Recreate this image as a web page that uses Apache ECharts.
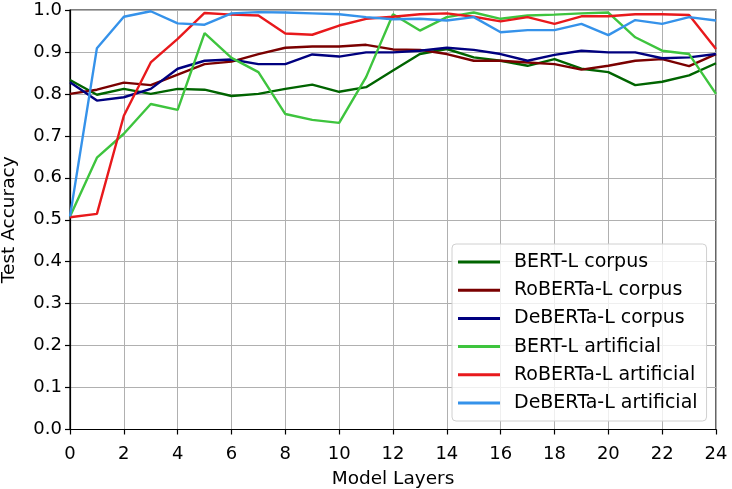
<!DOCTYPE html>
<html>
<head>
<meta charset="utf-8">
<script src="https://cdn.jsdelivr.net/npm/echarts@6/dist/echarts.min.js"></script>
<style>
html,body{margin:0;padding:0;background:#fff;}
#chart{width:732px;height:489px;}
</style>
</head>
<body>
<div id="chart"></div>
<script>
const layers = [0,1,2,3,4,5,6,7,8,9,10,11,12,13,14,15,16,17,18,19,20,21,22,23,24];
const bertCorpus = [0.833,0.798,0.812,0.800,0.812,0.810,0.795,0.800,0.812,0.822,0.805,0.816,0.856,0.895,0.907,0.887,0.879,0.867,0.883,0.860,0.852,0.821,0.829,0.844,0.873];
const robertaCorpus = [0.800,0.810,0.827,0.821,0.846,0.871,0.877,0.895,0.910,0.913,0.913,0.917,0.906,0.905,0.895,0.879,0.879,0.875,0.871,0.858,0.867,0.879,0.883,0.866,0.895];
const debertaCorpus = [0.828,0.784,0.792,0.812,0.860,0.879,0.882,0.871,0.871,0.894,0.889,0.899,0.899,0.903,0.910,0.905,0.895,0.879,0.893,0.903,0.899,0.899,0.885,0.887,0.895];
const bertArtificial = [0.508,0.648,0.705,0.776,0.762,0.945,0.886,0.852,0.752,0.738,0.731,0.840,0.990,0.951,0.983,0.994,0.979,0.987,0.989,0.992,0.994,0.935,0.903,0.895,0.800];
const robertaArtificial = [0.506,0.514,0.748,0.875,0.931,0.993,0.989,0.987,0.944,0.941,0.963,0.979,0.984,0.990,0.992,0.984,0.973,0.983,0.967,0.985,0.985,0.990,0.990,0.988,0.907];
const debertaArtificial = [0.508,0.909,0.984,0.997,0.968,0.965,0.992,0.995,0.994,0.992,0.990,0.983,0.978,0.979,0.975,0.983,0.947,0.952,0.952,0.967,0.940,0.976,0.967,0.983,0.975];
const seriesNames = ['BERT-L corpus','RoBERTa-L corpus','DeBERTa-L corpus','BERT-L artificial','RoBERTa-L artificial','DeBERTa-L artificial'];
const seriesColors = ['#006400','#7a0000','#00007f','#3ec43e','#e8191c','#3592ea'];
const seriesValues = [bertCorpus,robertaCorpus,debertaCorpus,bertArtificial,robertaArtificial,debertaArtificial];

const font = 'DejaVu Sans';
const chart = echarts.init(document.getElementById('chart'), null, {renderer:'canvas'});
chart.setOption({
  animation:false,
  backgroundColor:'#fff',
  grid:{left:70,right:16,top:10,bottom:59.5,containLabel:false,outerBoundsMode:'none',show:true,borderColor:'#000',borderWidth:1.2,backgroundColor:'transparent'},
  legend:{
    orient:'vertical',
    left:452, top:244,
    padding:[8,9,8,6],
    itemGap:8.2,
    itemWidth:42, itemHeight:3,
    icon:'rect',
    backgroundColor:'rgba(255,255,255,0.8)',
    borderColor:'#d0d0d0', borderWidth:1, borderRadius:4,
    textStyle:{fontFamily:font,fontSize:19,color:'#000',lineHeight:20,padding:[0,0,0,9]},
    data:seriesNames
  },
  xAxis:{
    type:'value', min:0, max:24, interval:2,
    name:'Model Layers', nameLocation:'middle', nameGap:40,
    nameTextStyle:{fontFamily:font,fontSize:18.5,color:'#000'},
    axisLine:{show:true,lineStyle:{color:'#000',width:1.2}},
    axisTick:{show:true,inside:false,length:5,lineStyle:{color:'#000',width:1.2}},
    axisLabel:{fontFamily:font,fontSize:18,color:'#000',margin:16},
    splitLine:{show:true,lineStyle:{color:'#b0b0b0',width:1}}
  },
  yAxis:{
    type:'value', min:0, max:1, interval:0.1,
    name:'Test Accuracy', nameLocation:'middle', nameGap:51, nameRotate:90,
    nameTextStyle:{fontFamily:font,fontSize:18.5,color:'#000'},
    axisLine:{show:true,lineStyle:{color:'#000',width:1.2}},
    axisTick:{show:true,inside:false,length:5,lineStyle:{color:'#000',width:1.2}},
    axisLabel:{fontFamily:font,fontSize:18,color:'#000',margin:8,formatter:v=>v.toFixed(1)},
    splitLine:{show:true,lineStyle:{color:'#b0b0b0',width:1}}
  },
  series: seriesNames.map((n,i)=>({
    name:n, type:'line', symbol:'none', showSymbol:false,
    data: layers.map((l,j)=>[l, seriesValues[i][j]]),
    lineStyle:{color:seriesColors[i],width:2.4},
    itemStyle:{color:seriesColors[i]},
    z:2+i
  }))
});
</script>
</body>
</html>
